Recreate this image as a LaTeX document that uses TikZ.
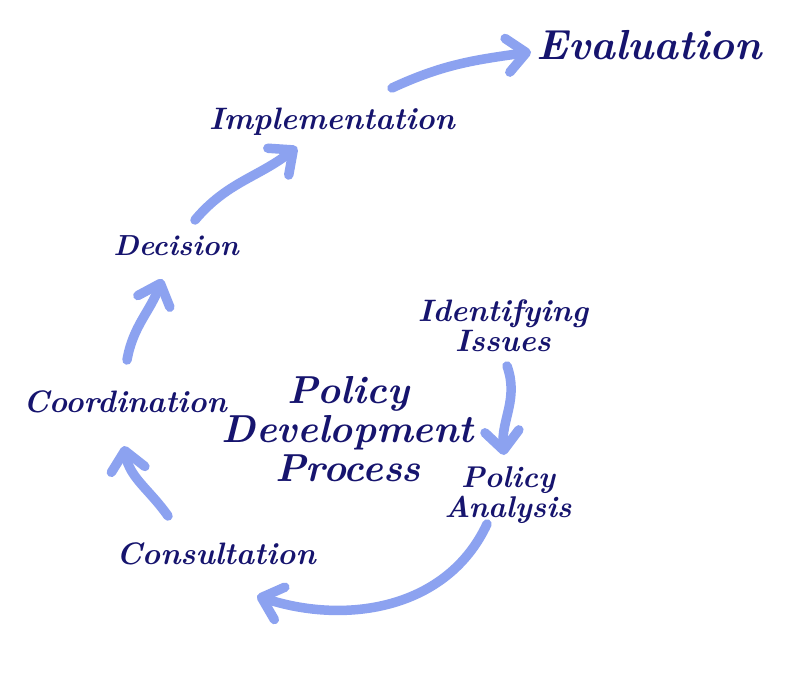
\documentclass[tikz,border=0pt]{standalone}
\usetikzlibrary{arrows.meta}
\definecolor{txtc}{HTML}{16146E}
\definecolor{arrc}{HTML}{8CA2F0}
\begin{document}
\begin{tikzpicture}[x=1pt,y=-1pt,
  lbl/.style={text=txtc,font=\fontsize{31}{30}\selectfont\bfseries\itshape,inner sep=0pt,align=center},
  big/.style={text=txtc,font=\fontsize{42}{40}\selectfont\bfseries\itshape,inner sep=0pt,align=center},
  arr/.style={draw=arrc,line width=9.5pt,line cap=round,-{Straight Barb[length=19pt,width=34pt,round]}}]
\useasboundingbox[fill=white] (0,0) rectangle (800,673);
\node[big] (eva) at (649,45) {Evaluation};
\node[lbl] (imp) at (332,122) {Implementation};
\node[lbl,font=\fontsize{29}{30}\selectfont\bfseries\itshape] (dec) at (176,246) {Decision};
\node[lbl] (coo) at (125,402) {Coordination};
\node[lbl] (con) at (216,554) {Consultation};
\node[big,font=\fontsize{39}{39}\selectfont\bfseries\itshape] (pdp) at (348,429) {Policy\\Development\\Process};
\node[lbl] (iss) at (503,326) {Identifying\\Issues};
\node[lbl,font=\fontsize{30}{30}\selectfont\bfseries\itshape] (ana) at (508,495) {Policy\\Analysis};
% connector end points
\coordinate (a1s) at (507,366); \coordinate (a1e) at (504,455);
\coordinate (a2s) at (487,524); \coordinate (a2e) at (257,596);
\coordinate (a3s) at (168,516); \coordinate (a3e) at (124,446);
\coordinate (a4s) at (127,360); \coordinate (a4e) at (162,279);
\coordinate (a5s) at (195,220); \coordinate (a5e) at (297,147);
\coordinate (a6s) at (392,88);  \coordinate (a6e) at (531,52);
\draw[arr] (a1s) to[out=-70,in=95] (a1e);
\draw[arr] (a2s) to[out=-115,in=-18] (a2e);
\draw[arr] (a3s) to[out=125,in=-80] (a3e);
\draw[arr] (a4s) to[out=-100+180,in=-110] (a4e);
\draw[arr] (a5s) to[out=50,in=-142] (a5e);
\draw[arr] (a6s) to[out=25,in=-172] (a6e);
\end{tikzpicture}
\end{document}
